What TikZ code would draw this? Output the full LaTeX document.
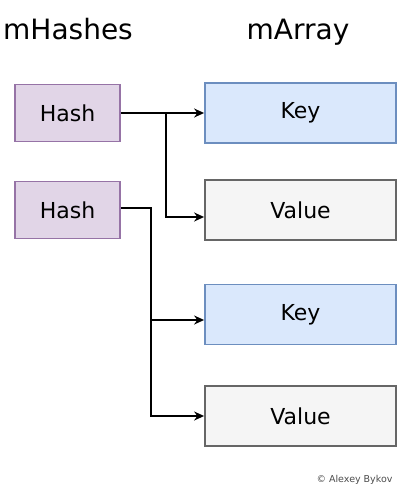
\documentclass[tikz,border=0pt]{standalone}
\usepackage{fontspec}
\setmainfont{DejaVu Sans}
\usetikzlibrary{arrows.meta}

\definecolor{hashfill}{HTML}{E1D5E7}
\definecolor{hashdraw}{HTML}{9673A6}
\definecolor{keyfill}{HTML}{DAE8FC}
\definecolor{keydraw}{HTML}{6C8EBF}
\definecolor{valfill}{HTML}{F5F5F5}
\definecolor{valdraw}{HTML}{666666}

\tikzset{
    hashbox/.style={draw=hashdraw, fill=hashfill, line width=1.8pt, minimum width=105pt, minimum height=57pt, font=\fontsize{22}{26}\selectfont},
    keybox/.style={draw=keydraw, fill=keyfill, line width=1.8pt, minimum width=191pt, minimum height=60pt, font=\fontsize{22}{26}\selectfont},
    valbox/.style={draw=valdraw, fill=valfill, line width=1.8pt, minimum width=191pt, minimum height=60pt, font=\fontsize{22}{26}\selectfont},
    title/.style={anchor=base, font=\fontsize{28}{32}\selectfont},
    link/.style={line width=2pt, -{Stealth[length=10pt,width=9pt]}}
}

\begin{document}
\begin{tikzpicture}[x=1pt, y=-1pt]

    \useasboundingbox (0,0) rectangle (402,492);

    % Column titles
    \node[title] (thashes) at (68,40) {mHashes};
    \node[title] (tarray) at (298,40) {mArray};

    % Hashes on the left
    \node[hashbox] (h1) at (67.5,113) {Hash};
    \node[hashbox] (h2) at (67.5,210) {Hash};

    % Keys and values on the right
    \node[keybox] (k1) at (300.5,113) {Key};
    \node[valbox] (v1) at (300.5,210) {Value};
    \node[keybox] (k2) at (300.5,314.5) {Key};
    \node[valbox] (v2) at (300.5,416) {Value};

    % Arrows from the hashes
    \draw[link] (h1.east) -- (k1.west);
    \draw[link] (h1.east) -- ++(45,0) |- ([yshift=-7pt]v1.west);
    \draw[link] ([yshift=2pt]h2.east) -- ++(30,0) coordinate (fork) |- (v2.west);
    \draw[link] (fork) |- ([yshift=-5.5pt]k2.west);

    % Credit
    \node[anchor=base east, text=black!70, font=\fontsize{9.5}{11}\selectfont] (credit) at (396,482) {© Alexey Bykov};

\end{tikzpicture}
\end{document}
